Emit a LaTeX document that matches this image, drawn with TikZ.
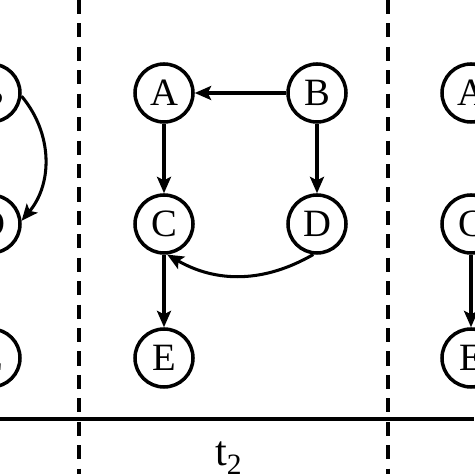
\documentclass[tikz,border=0pt]{standalone}
\usepackage{fontspec}
\setmainfont{Liberation Serif}
\usetikzlibrary{arrows.meta}

\begin{document}
\begin{tikzpicture}[x=0.03cm, y=0.03cm,
  state/.style={circle, draw, line width=3pt, minimum size=1.74cm, inner sep=0pt,
    font=\fontsize{33}{34}\selectfont},
  arr/.style={-{Stealth[length=14pt, width=12pt, inset=3pt]}, line width=2.6pt},
  sep/.style={line width=3pt, dash pattern=on 12pt off 8pt}]
% rows and columns (pixel grid, y up)
\def\ya{381}
\def\yb{250}
\def\yc{116}
\useasboundingbox (0,0) rectangle (474,474);

% Time axis and panel separators
\draw[line width=3pt] (0,55) -- (474,55);
\draw[sep] (79,474) -- (79,0);
\draw[sep] (388,474) -- (388,0);
\node[anchor=base west, font=\fontsize{36}{38}\selectfont] (lbl) at (211,9) {t\textsubscript{2}};

% Left panel (t1, partly visible)
\node[state] (lB) at (-9,\ya) {B};
\node[state] (lD) at (-9,\yb) {D};
\node[state] (lE) at (-9,\yc) {E};
\draw[arr] (lB.-6) to[bend left=40] (lD.6);

% Middle panel (t2)
\node[state] (A) at (164,\ya) {A};
\node[state] (B) at (317,\ya) {B};
\node[state] (C) at (164,\yb) {C};
\node[state] (D) at (317,\yb) {D};
\node[state] (E) at (164,\yc) {E};
\draw[arr] (B) -- (A);
\draw[arr] (A) -- (C);
\draw[arr] (B) -- (D);
\draw[arr] (C) -- (E);
\draw[arr] (D.-97) to[bend left=30] (C.-84);

% Right panel (t3, partly visible)
\node[state] (rA) at (471,\ya) {A};
\node[state] (rC) at (471,\yb) {C};
\node[state] (rE) at (471,\yc) {E};
\draw[arr] (rC) -- (rE);
\end{tikzpicture}
\end{document}
